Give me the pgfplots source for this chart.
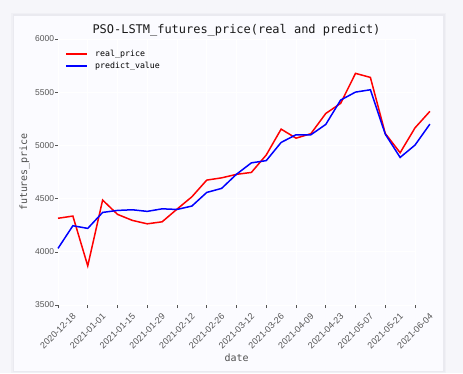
\documentclass[border=0pt]{standalone}
\usepackage{fontspec}
\setmainfont{Liberation Sans}
\newfontfamily\mono{DejaVu Sans Mono}
\usepackage{pgfplots}
\usepackage{pgfplotstable}
\pgfplotsset{compat=1.18}
\definecolor{outerbg}{RGB}{246,246,250}
\definecolor{shadowA}{RGB}{240,240,245}
\definecolor{shadowB}{RGB}{234,234,240}
\definecolor{panelbg}{RGB}{251,251,255}
\definecolor{ticklab}{RGB}{85,85,85}
\definecolor{labcol}{RGB}{80,80,80}
\pgfplotsset{every axis y label/.style={font=\mono\fontsize{10}{12}\selectfont, text=labcol, at={(axis description cs:0,0.5)}, anchor=center, xshift=-33.5bp, rotate=90}}

\pgfplotstableread{
idx real pred
0 4315 4032
1 4336 4245
2 3868 4220
3 4486 4370
4 4352 4389
5 4295 4395
6 4263 4380
7 4282 4404
8 4401 4398
9 4517 4430
10 4674 4558
11 4695 4596
12 4728 4729
13 4746 4836
14 4910 4857
15 5153 5028
16 5068 5100
17 5110 5100
18 5300 5197
19 5395 5426
20 5677 5501
21 5639 5523
22 5112 5106
23 4931 4887
24 5165 5003
25 5320 5200
}\datatable

\begin{document}
\begin{tikzpicture}[x=1bp,y=1bp]
\fill[outerbg] (0,0) rectangle (463,373);
\fill[shadowA] (11,0) rectangle (446,360);
\fill[shadowB] (12.5,1) rectangle (444.5,358.5);
\fill[panelbg] (14,2) rectangle (443,357);
\begin{axis}[
  at={(58bp,68bp)}, anchor=south west,
  width=357bp, height=266bp, scale only axis,
  xmin=0, xmax=24, ymin=3500, ymax=6000,
  clip=false,
  axis line style={draw=none},
  grid=major,
  grid style={white, line width=0.8bp},
  tick align=outside,
  major tick length=3bp,
  tick style={ticklab, line width=0.6bp},
  xtick pos=bottom, ytick pos=left,
  xtick={0,2,...,24},
  xticklabels={2020-12-18,2021-01-01,2021-01-15,2021-01-29,2021-02-12,2021-02-26,2021-03-12,2021-03-26,2021-04-09,2021-04-23,2021-05-07,2021-05-21,2021-06-04},
  ytick={3500,4000,4500,5000,5500,6000},
  yticklabels={3500,4000,4500,5000,5500,6000},
  /pgf/number format/assume math mode=true,
  x tick label style={font=\fontsize{9}{10}\selectfont, text=ticklab, anchor=center, yshift=-23bp, rotate=45},
  y tick label style={font=\fontsize{8.5}{10}\selectfont, text=ticklab, xshift=2.5bp},
  title={PSO-LSTM\_futures\_price(real and predict)},
  title style={font=\mono\fontsize{12}{14}\selectfont, text=black!90, at={(0.5,1)}, anchor=south, yshift=-5bp, inner sep=2bp},
  xlabel={date},
  xlabel style={font=\mono\fontsize{10}{12}\selectfont, text=labcol, at={(axis description cs:0.5,0)}, anchor=center, yshift=-53bp},
  ylabel={futures\_price},
  legend style={at={(0.0224,0.968)}, anchor=north west, draw=none, fill=none, inner sep=0pt,
    font=\mono\fontsize{8.3}{9.5}\selectfont, row sep=0.2bp, column sep=0pt,
    nodes={inner xsep=0pt}},
  legend cell align=left,
  legend image code/.code={},
]
\addplot[red, line width=1.5bp] table[x=idx, y=real] {\datatable};
\addlegendentry{\textcolor{red}{\rule[1.5bp]{21bp}{1.5bp}}\hspace{8bp}real\_price}
\addplot[blue, line width=1.5bp] table[x=idx, y=pred] {\datatable};
\addlegendentry{\textcolor{blue}{\rule[1.5bp]{21bp}{1.5bp}}\hspace{8bp}predict\_value}
\end{axis}
\pgfresetboundingbox
\useasboundingbox (0,0) rectangle (463,373);
\end{tikzpicture}
\end{document}
